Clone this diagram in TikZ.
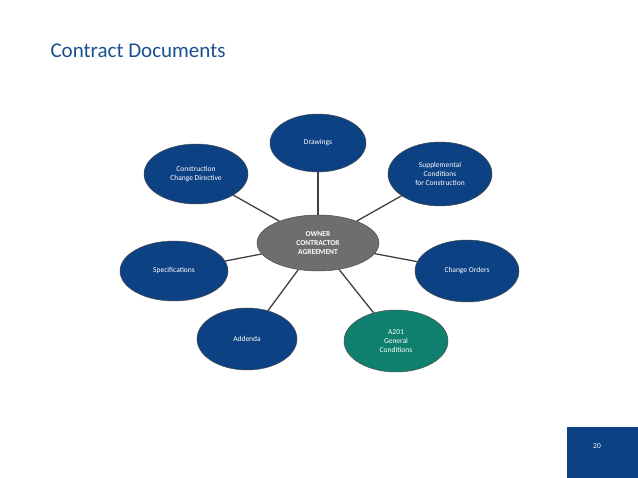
\documentclass[tikz,border=0pt]{standalone}
\usepackage{fontspec}
\setmainfont{Carlito}
\usetikzlibrary{shapes.geometric}
\definecolor{navy}{HTML}{0C4183}
\definecolor{teal2}{HTML}{10806E}
\definecolor{grayc}{HTML}{6E6E6E}
\definecolor{titleblue}{HTML}{1B4F8F}
\tikzset{
 bub/.style={ellipse,draw=black!70,line width=0.5pt,fill=navy,text=white,inner sep=0pt,font=\fontsize{7.5}{9}\selectfont,align=center},
 conn/.style={draw=black!75,line width=1.3pt}
}
\begin{document}
\begin{tikzpicture}[x=1pt,y=-1pt]
\useasboundingbox (0,0) rectangle (638,478);
\node[anchor=west,text=titleblue,font=\fontsize{21}{24}\selectfont] (title) at (47,51) {Contract Documents};
\node[bub,fill=grayc,minimum width=122,minimum height=56,font=\bfseries\fontsize{7.5}{9}\selectfont] (c) at (318,243) {OWNER\\CONTRACTOR\\AGREEMENT};
\node[bub,minimum width=96,minimum height=58] (d) at (318,143) {Drawings};
\node[bub,minimum width=104,minimum height=60] (ccd) at (196,174) {Construction\\Change Directive};
\node[bub,minimum width=104,minimum height=64] (sup) at (440,174) {Supplemental\\Conditions\\for Construction};
\node[bub,minimum width=108,minimum height=60] (spec) at (174,271) {Specifications};
\node[bub,minimum width=104,minimum height=62] (co) at (467,271) {Change Orders};
\node[bub,minimum width=100,minimum height=62] (add) at (247,339) {Addenda};
\node[bub,fill=teal2,minimum width=104,minimum height=62] (a201) at (396,341) {A201\\General\\Conditions};
\foreach \t in {d,ccd,sup,spec,co,add,a201} \draw[conn] (c) -- (\t);
\fill[navy] (567,427) rectangle (638,478);
\node[text=white,font=\fontsize{7.5}{9}\selectfont] (pg) at (597,446) {20};
\end{tikzpicture}
\end{document}
